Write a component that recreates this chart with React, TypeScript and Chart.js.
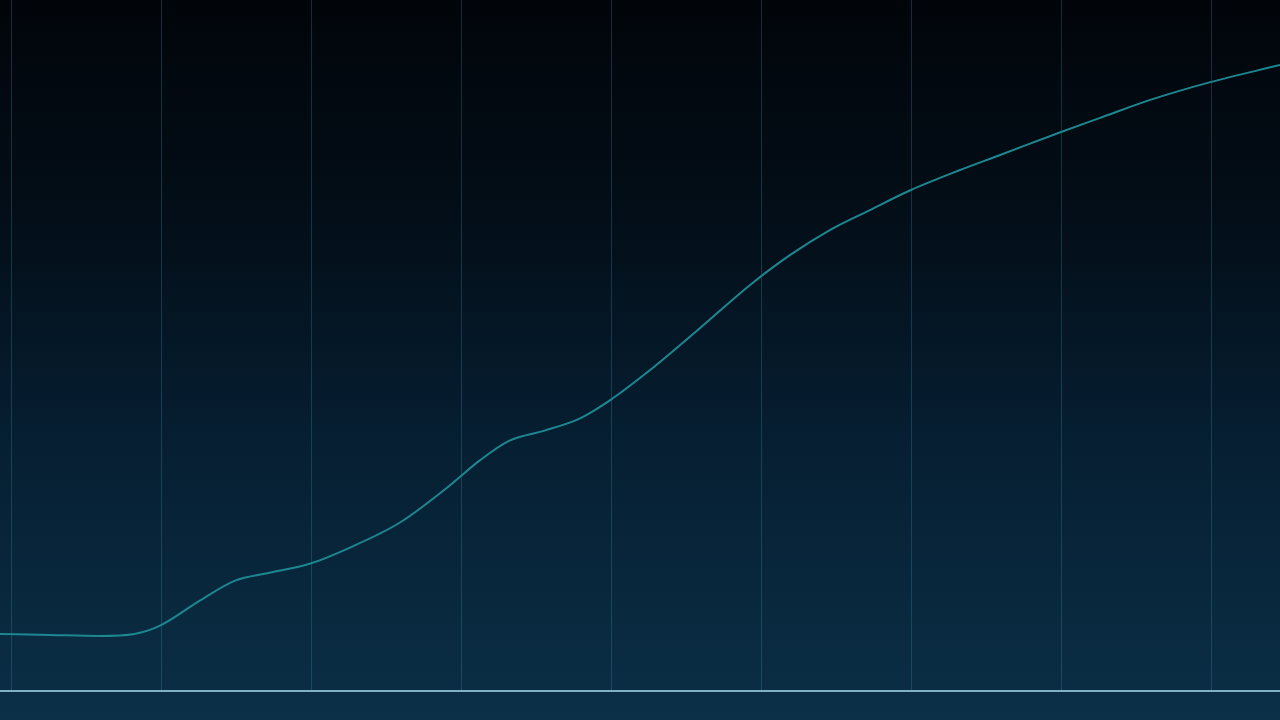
import React, { useEffect, useRef } from "react";
import { Chart, registerables } from "chart.js";

Chart.register(...registerables);

// x positions in grid units (vertical grid lines at whole numbers)
const xValues = [-0.0767, 0.253, 0.587, 0.82, 0.987, 1.253, 1.487, 1.72, 1.987, 2.253, 2.587, 2.92, 3.12, 3.32, 3.553, 3.787, 3.987, 4.253, 4.587, 4.92, 5.187, 5.453, 5.72, 5.993, 6.32, 6.587, 6.993, 7.253, 7.587, 7.993, 8.457];
const seriesValues = [57, 56, 55, 57, 65, 90, 110, 118, 127, 143, 168, 205, 230, 250, 260, 272, 290, 320, 362, 405, 435, 460, 480, 500, 520, 535, 558, 572, 590, 608, 625];
const xMin = -0.0767;
const xMax = 8.457;
const yMin = 0;
const yMax = 690;

const bgPlugin = {
  id: "bg",
  beforeDraw(chart: any) {
    const { ctx, width, height } = chart;
    const g = ctx.createLinearGradient(0, 0, 0, height);
    g.addColorStop(0, "#01050a");
    g.addColorStop(0.3, "#030e18");
    g.addColorStop(0.6, "#061e31");
    g.addColorStop(0.95, "#0a2d44");
    g.addColorStop(1, "#0b3048");
    ctx.save();
    ctx.fillStyle = g;
    ctx.fillRect(0, 0, width, height);
    ctx.restore();
  },
};

export default function App() {
  const ref = useRef<HTMLCanvasElement>(null);
  useEffect(() => {
    if (!ref.current) return;
    const data = xValues.map((x, i) => ({ x, y: seriesValues[i] }));
    const chart = new Chart(ref.current, {
      type: "line",
      data: {
        datasets: [
          {
            data,
            borderColor: "#1d8790",
            borderWidth: 2,
            pointRadius: 0,
            cubicInterpolationMode: "monotone",
            fill: false,
          },
        ],
      },
      options: {
        animation: false,
        responsive: true,
        maintainAspectRatio: false,
        layout: { padding: { left: 0, right: 0, top: 0, bottom: 29 } },
        plugins: { legend: { display: false }, tooltip: { enabled: false } },
        scales: {
          x: {
            type: "linear",
            min: xMin,
            max: xMax,
            ticks: { display: false, stepSize: 1, includeBounds: false },
            grid: { color: "rgba(70,150,175,0.28)", lineWidth: 1, drawTicks: false },
            border: { display: true, color: "#7fb0c4", width: 2 },
          },
          y: {
            display: false,
            min: yMin,
            max: yMax,
          },
        },
      },
      plugins: [bgPlugin],
    });
    return () => chart.destroy();
  }, []);
  return (
    <div style={{ position: "fixed", left: 0, top: 0, width: 1280, height: 720 }}>
      <canvas ref={ref} />
    </div>
  );
}
